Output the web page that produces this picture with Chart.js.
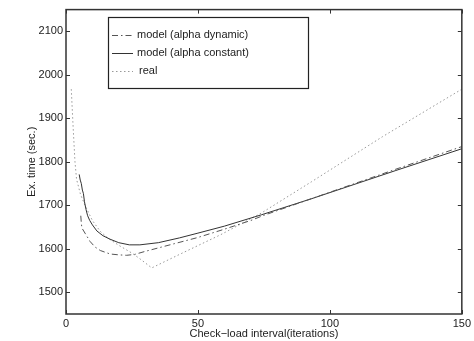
<!DOCTYPE html>
<html>
<head>
<meta charset="utf-8">
<script src="https://cdn.jsdelivr.net/npm/chart.js@4"></script>
<style>
  html, body { margin: 0; padding: 0; background: #fff; }
  #wrap { width: 474px; height: 341px; }
</style>
</head>
<body>
<div id="wrap"><canvas id="myChart" width="474" height="341"></canvas></div>
<script>
// check-load interval (x) and execution time (y) for each curve
const dynX = [5.6, 5.8, 6, 7.2, 9.1, 11, 13, 16.7, 20, 23, 26, 30, 40, 50, 60, 70, 75, 100, 125, 150];
const dynY = [1676, 1660, 1648, 1636, 1617, 1604, 1596, 1588, 1586, 1585, 1587, 1594, 1610, 1626, 1645, 1665, 1677, 1730, 1783, 1835];

const constX = [5, 5.4, 5.8, 6.2, 6.6, 7, 7.6, 8.2, 9, 10, 11.7, 14, 16.7, 20, 24, 28, 35, 43, 50, 60, 74, 93, 125, 150];
const constY = [1771, 1758, 1750, 1735, 1727, 1708, 1690, 1676, 1665, 1655, 1641, 1630, 1622, 1614, 1609, 1609, 1614, 1625, 1636, 1652, 1678, 1715, 1780, 1830];

const realX = [2, 2.7, 3.4, 4, 5.5, 7.2, 10, 13, 16, 20, 25, 28, 32.5, 43, 58.5, 74, 93, 120, 150];
const realY = [1967, 1880, 1800, 1760, 1725, 1700, 1665, 1640, 1624, 1608, 1590, 1577, 1556, 1587, 1632, 1682, 1754, 1858, 1967];

const xTicks = [0, 50, 100, 150];
const yTicks = [1500, 1600, 1700, 1800, 1900, 2000, 2100];

const labels = ['model (alpha dynamic)', 'model (alpha constant)', 'real'];

const toPoints = (xs, ys) => xs.map((v, i) => ({x: v, y: ys[i]}));

const FONT = 'Liberation Sans, Arial, Helvetica, sans-serif';

// box around the axes, inward tick marks and the boxed legend
const framePlugin = {
  id: 'frame',
  afterDatasetsDraw(chart) {
    const {ctx, chartArea: a, scales: {x, y}} = chart;
    ctx.save();
    ctx.strokeStyle = '#333';
    ctx.lineWidth = 1.5;
    ctx.setLineDash([]);
    ctx.strokeRect(a.left, a.top, a.right - a.left, a.bottom - a.top);

    ctx.lineWidth = 1;
    ctx.beginPath();
    x.ticks.forEach(t => {
      const px = Math.round(x.getPixelForValue(t.value)) + 0.5;
      ctx.moveTo(px, a.bottom); ctx.lineTo(px, a.bottom - 4);
      ctx.moveTo(px, a.top); ctx.lineTo(px, a.top + 4);
    });
    y.ticks.forEach(t => {
      const py = Math.round(y.getPixelForValue(t.value)) + 0.5;
      ctx.moveTo(a.left, py); ctx.lineTo(a.left + 4, py);
      ctx.moveTo(a.right, py); ctx.lineTo(a.right - 4, py);
    });
    ctx.stroke();

    // legend
    const lx = 108, ly = 17, lw = 200, lh = 71;
    ctx.fillStyle = '#fff';
    ctx.fillRect(lx, ly, lw, lh);
    ctx.strokeStyle = '#222';
    ctx.lineWidth = 1.2;
    ctx.strokeRect(lx + 0.5, ly + 0.5, lw, lh);
    ctx.font = '11px ' + FONT;
    ctx.textBaseline = 'middle';
    ctx.fillStyle = '#222';
    chart.data.datasets.forEach((ds, i) => {
      const rowY = 35 + i * 18;
      ctx.strokeStyle = ds.borderColor;
      ctx.lineWidth = ds.borderWidth;
      ctx.setLineDash(ds.borderDash || []);
      ctx.beginPath();
      ctx.moveTo(112, rowY + 0.5);
      ctx.lineTo(133, rowY + 0.5);
      ctx.stroke();
      ctx.fillText(ds.label, i === 2 ? 139 : 137, rowY);
    });
    ctx.restore();
  }
};

new Chart(document.getElementById('myChart'), {
  type: 'scatter',
  data: {
    datasets: [
      {
        label: labels[0],
        data: toPoints(dynX, dynY),
        showLine: true,
        borderColor: '#555',
        borderWidth: 1,
        borderDash: [6, 3, 1.5, 3],
        pointRadius: 0,
        tension: 0
      },
      {
        label: labels[1],
        data: toPoints(constX, constY),
        showLine: true,
        borderColor: '#333',
        borderWidth: 1,
        pointRadius: 0,
        tension: 0
      },
      {
        label: labels[2],
        data: toPoints(realX, realY),
        showLine: true,
        borderColor: '#999',
        borderWidth: 1,
        borderDash: [1.5, 2.5],
        pointRadius: 0,
        tension: 0
      }
    ]
  },
  options: {
    responsive: false,
    devicePixelRatio: 1,
    animation: false,
    layout: { padding: { top: 3, right: 12, left: 0, bottom: 0 } },
    plugins: {
      legend: { display: false },
      tooltip: { enabled: false }
    },
    scales: {
      x: {
        type: 'linear',
        min: 0,
        max: 150,
        afterBuildTicks: s => { s.ticks = xTicks.map(v => ({value: v})); },
        afterFit: s => { s.height = 27; },
        grid: { display: false, drawTicks: false },
        border: { display: false },
        ticks: {
          color: '#222', padding: 3, maxRotation: 0,
          font: { family: FONT, size: 11 },
          callback: v => String(v)
        },
        title: {
          display: true,
          text: 'Check\u2212load interval(iterations)',
          color: '#222',
          font: { family: FONT, size: 11 },
          padding: { top: 0, bottom: 0 }
        }
      },
      y: {
        type: 'linear',
        min: 1450,
        max: 2150,
        afterBuildTicks: s => { s.ticks = yTicks.map(v => ({value: v})); },
        afterFit: s => { s.width = 66; },
        grid: { display: false, drawTicks: false },
        border: { display: false },
        ticks: {
          color: '#222', padding: 3,
          font: { family: FONT, size: 11 },
          callback: v => String(v)
        },
        title: {
          display: true,
          text: 'Ex. time (sec.)',
          color: '#222',
          font: { family: FONT, size: 11 },
          padding: { top: 25, bottom: 0 }
        }
      }
    }
  },
  plugins: [framePlugin]
});
</script>
</body>
</html>
